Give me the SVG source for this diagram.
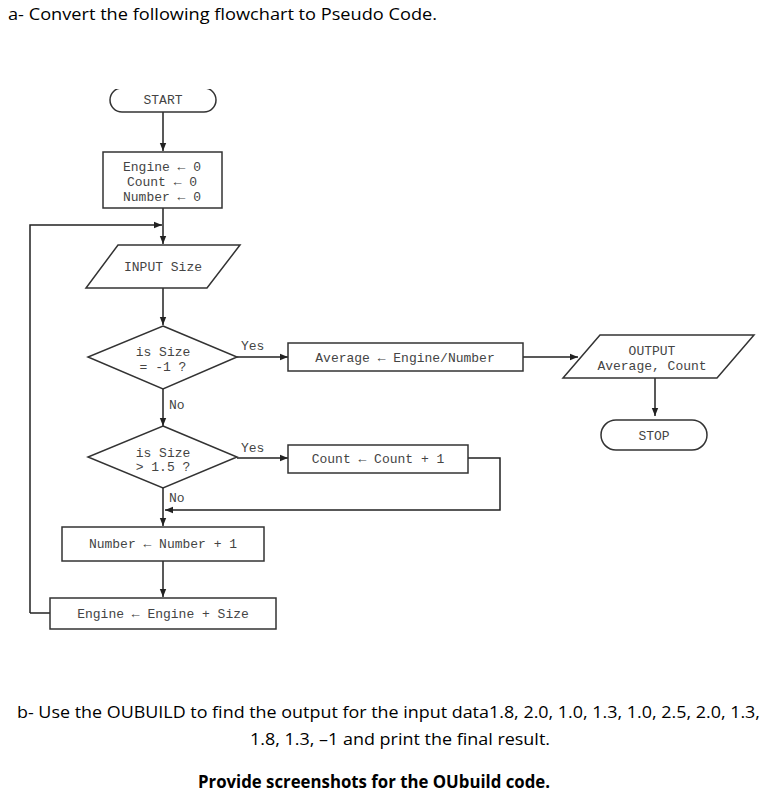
<svg xmlns="http://www.w3.org/2000/svg" width="769" height="796" viewBox="0 0 769 796">
<defs>
<marker id="ah" viewBox="0 0 10 10" refX="10" refY="5" markerWidth="8" markerHeight="8" orient="auto" markerUnits="userSpaceOnUse"><path d="M0,1 L10,5 L0,9 z" fill="#222"/></marker>
</defs>
<style>
.s{fill:#fff;stroke:#333;stroke-width:1.5}
.t{font-family:"Liberation Mono",monospace;font-size:13px;fill:#444;text-anchor:middle}
.l{font-family:"Liberation Mono",monospace;font-size:13px;fill:#444}
.c{fill:none;stroke:#222;stroke-width:1.5}
.h{font-family:"Open Sans","Liberation Sans",sans-serif;font-size:17px;fill:#000}
</style>
<rect width="769" height="796" fill="#fff"/>
<text class="h" x="8" y="20" textLength="429" lengthAdjust="spacingAndGlyphs">a-  Convert the following flowchart to Pseudo Code.</text>
<g id="connectors">
<path class="c" d="M163,111 V151" marker-end="url(#ah)"/>
<path class="c" d="M163,208 V244" marker-end="url(#ah)"/>
<path class="c" d="M30,613 V225 H162" marker-end="url(#ah)"/>
<path class="c" d="M163,288 V325" marker-end="url(#ah)"/>
<path class="c" d="M237,357 H288" marker-end="url(#ah)"/>
<path class="c" d="M523,357 H578" marker-end="url(#ah)"/>
<path class="c" d="M655,378 V416" marker-end="url(#ah)"/>
<path class="c" d="M163,389 V426" marker-end="url(#ah)"/>
<path class="c" d="M237,458 H288" marker-end="url(#ah)"/>
<path class="c" d="M468,458 H500 V510 H165" marker-end="url(#ah)"/>
<path class="c" d="M163,488 V526" marker-end="url(#ah)"/>
<path class="c" d="M163,561 V597" marker-end="url(#ah)"/>
<path class="c" d="M30,613 H50"/>
<text class="l" x="241" y="350">Yes</text>
<text class="l" x="241" y="452">Yes</text>
<text class="l" x="169" y="409">No</text>
<text class="l" x="169" y="502">No</text>
</g>
<g id="start"><path class="s" d="M122,88 H204 A12,12 0 0 1 204,112 H122 A12,12 0 0 1 122,88 Z" style="stroke-dasharray:none"/><rect x="114" y="86" width="98" height="3" fill="#fff"/><text class="t" x="163" y="104">START</text></g>
<g id="init"><rect class="s" x="103" y="152" width="119" height="56"/><text class="t" x="162" y="171">Engine ← 0</text><text class="t" x="162" y="186">Count ← 0</text><text class="t" x="162" y="201">Number ← 0</text></g>
<g id="input"><path class="s" d="M118,245 H240 L207,288 H86 Z"/><text class="t" x="163" y="271">INPUT Size</text></g>
<g id="dec1"><path class="s" d="M163,326 L237,357 L163,389 L88,357 Z"/><text class="t" x="163" y="356">is Size</text><text class="t" x="163" y="371">= -1 ?</text></g>
<g id="avg"><rect class="s" x="288" y="343" width="235" height="28"/><text class="t" x="405" y="362">Average ← Engine/Number</text></g>
<g id="output"><path class="s" d="M600,335 H754 L717,378 H563 Z"/><text class="t" x="652" y="355">OUTPUT</text><text class="t" x="652" y="370">Average, Count</text></g>
<g id="stop"><rect class="s" x="601" y="420" width="106" height="30" rx="15"/><text class="t" x="654" y="440">STOP</text></g>
<g id="dec2"><path class="s" d="M163,426 L237,457 L163,488 L88,457 Z"/><text class="t" x="163" y="457">is Size</text><text class="t" x="163" y="471">&gt; 1.5 ?</text></g>
<g id="count"><rect class="s" x="288" y="445" width="180" height="28"/><text class="t" x="378" y="463">Count ← Count + 1</text></g>
<g id="number"><rect class="s" x="62" y="527" width="202" height="34"/><text class="t" x="163" y="548">Number ← Number + 1</text></g>
<g id="engine"><rect class="s" x="50" y="598" width="226" height="31"/><text class="t" x="163" y="618">Engine ← Engine + Size</text></g>
<text class="h" x="17" y="718" textLength="743" lengthAdjust="spacingAndGlyphs">b-   Use the OUBUILD to find the output for the input data1.8, 2.0, 1.0, 1.3, 1.0, 2.5, 2.0, 1.3,</text>
<text class="h" x="250" y="745" textLength="300" lengthAdjust="spacingAndGlyphs">1.8, 1.3, –1 and print the final result.</text>
<text class="h" x="198" y="788" textLength="352" lengthAdjust="spacingAndGlyphs" font-weight="bold">Provide screenshots for the OUbuild code.</text>
</svg>
